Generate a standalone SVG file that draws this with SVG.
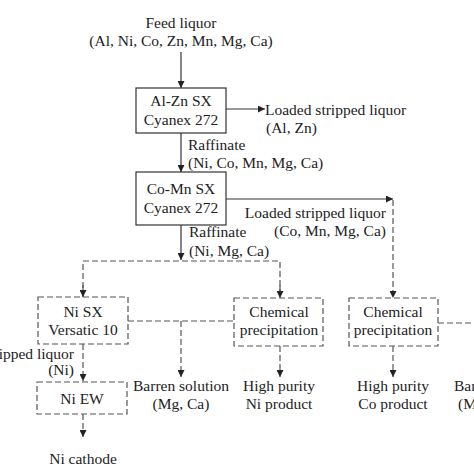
<svg xmlns="http://www.w3.org/2000/svg" width="474" height="474" viewBox="0 0 474 474">
<defs>
<marker id="ah" viewBox="0 0 10 10" refX="10" refY="5" markerWidth="7" markerHeight="7" markerUnits="userSpaceOnUse" orient="auto">
<path d="M0,0 L10,5 L0,10 z" fill="#222"/>
</marker>
<style>
text{font-family:"Liberation Serif","Times New Roman",serif;font-size:15.5px;fill:#222}
.c{text-anchor:middle}
.e{text-anchor:end}
.box{fill:#fff;stroke:#333;stroke-width:1.2}
.dbox{fill:#fff;stroke:#555;stroke-width:1.2;stroke-dasharray:6,3}
.s{fill:none;stroke:#333;stroke-width:1.2}
.d{fill:none;stroke:#555;stroke-width:1.2;stroke-dasharray:6,3}
.a{marker-end:url(#ah)}
</style>
</defs>
<rect width="474" height="474" fill="#fff"/>
<g id="connectors">
<line class="s a" x1="181" y1="52" x2="181" y2="88"/>
<line class="s a" x1="226" y1="109" x2="265" y2="109"/>
<line class="s a" x1="181" y1="133" x2="181" y2="172"/>
<line class="s a" x1="226" y1="199" x2="393" y2="199"/>
<line class="s a" x1="181" y1="225" x2="181" y2="260"/>
<polyline class="d" points="83,297 83,261 280,261 280,298"/>
<line class="d a" x1="83" y1="285" x2="83" y2="297"/>
<line class="d a" x1="280" y1="285" x2="280" y2="298"/>
<line class="d a" x1="393" y1="200" x2="393" y2="298"/>
<line class="d" x1="128" y1="321" x2="234" y2="321"/>
<line class="d a" x1="181" y1="321" x2="181" y2="377"/>
<line class="d a" x1="280" y1="346" x2="280" y2="377"/>
<line class="d a" x1="393" y1="346" x2="393" y2="377"/>
<line class="d" x1="438" y1="323" x2="474" y2="323"/>
<line class="d a" x1="83" y1="344" x2="83" y2="381"/>
<line class="d a" x1="83" y1="414" x2="83" y2="437"/>
</g>
<g id="feed"><text class="c" x="181" y="28">Feed liquor</text><text class="c" x="181" y="46">(Al, Ni, Co, Zn, Mn, Mg, Ca)</text></g>
<g id="alzn"><rect class="box" x="136" y="88" width="90" height="45"/><text class="c" x="181" y="106">Al-Zn SX</text><text class="c" x="181" y="125">Cyanex 272</text></g>
<g id="lsl1"><text x="265" y="115">Loaded stripped liquor</text><text x="266" y="133">(Al, Zn)</text></g>
<g id="raf1"><text x="188" y="150">Raffinate</text><text x="188" y="168">(Ni, Co, Mn, Mg, Ca)</text></g>
<g id="comn"><rect class="box" x="136" y="172" width="90" height="53"/><text class="c" x="181" y="194">Co-Mn SX</text><text class="c" x="181" y="213">Cyanex 272</text></g>
<g id="lsl2"><text class="e" x="386" y="218">Loaded stripped liquor</text><text class="e" x="386" y="236">(Co, Mn, Mg, Ca)</text></g>
<g id="raf2"><text x="189" y="237">Raffinate</text><text x="189" y="256">(Ni, Mg, Ca)</text></g>
<g id="nisx"><rect class="dbox" x="38" y="297" width="90" height="47"/><text class="c" x="83" y="317">Ni SX</text><text class="c" x="83" y="335">Versatic 10</text></g>
<g id="chem1"><rect class="dbox" x="234" y="298" width="89" height="48"/><text class="c" x="279" y="317">Chemical</text><text class="c" x="279" y="335">precipitation</text></g>
<g id="chem2"><rect class="dbox" x="349" y="298" width="89" height="48"/><text class="c" x="393" y="317">Chemical</text><text class="c" x="393" y="335">precipitation</text></g>
<g id="lsl3"><text class="e" x="74" y="359">Loaded stripped liquor</text><text class="e" x="74" y="375">(Ni)</text></g>
<g id="niew"><rect class="dbox" x="37" y="382" width="90" height="32"/><text class="c" x="82" y="404">Ni EW</text></g>
<g id="barren1"><text class="c" x="181" y="391">Barren solution</text><text class="c" x="181" y="409">(Mg, Ca)</text></g>
<g id="hpni"><text class="c" x="279" y="391">High purity</text><text class="c" x="279" y="409">Ni product</text></g>
<g id="hpco"><text class="c" x="393" y="391">High purity</text><text class="c" x="393" y="409">Co product</text></g>
<g id="barren2"><text x="454" y="391">Barren solution</text><text x="458" y="409">(Mn, Mg, Ca)</text></g>
<g id="cathode"><text class="c" x="83" y="464">Ni cathode</text></g>
</svg>
